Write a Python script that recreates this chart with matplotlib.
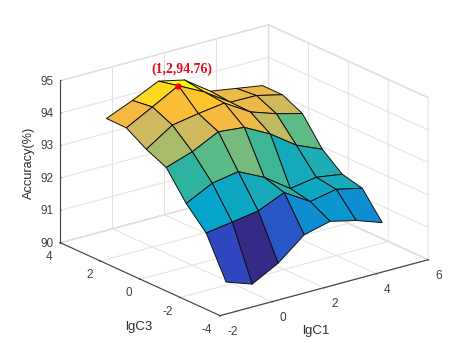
#!/usr/bin/env python
# surface of accuracy over lgC1 / lgC3, MATLAB style
import numpy as np
import matplotlib
matplotlib.use('Agg')
import matplotlib.pyplot as plt
from matplotlib.colors import LinearSegmentedColormap

lgc1 = [-1, 0, 1, 2, 3, 4, 5]
lgc3 = [-3, -2, -1, 0, 1, 2, 3]
# rows follow lgc3, columns follow lgc1
acc = [
    [90.54, 90.26, 90.69, 91.35, 91.55, 91.36, 91.08],
    [91.77, 91.89, 92.02, 92.37, 91.88, 92.04, 91.86],
    [92.40, 92.81, 92.95, 92.56, 92.00, 92.13, 92.01],
    [93.23, 93.50, 93.90, 93.82, 93.40, 92.84, 92.50],
    [93.51, 94.04, 94.18, 94.29, 93.80, 93.53, 93.32],
    [93.89, 94.32, 94.76, 94.35, 93.82, 93.81, 93.62],
    [93.90, 94.24, 94.62, 94.44, 93.88, 93.75, 93.62],
]
peak = (1, 2, 94.76)
x_ticks = [-2, 0, 2, 4, 6]
y_ticks = [-4, -2, 0, 2, 4]
z_ticks = [90, 91, 92, 93, 94, 95]

parula = LinearSegmentedColormap.from_list('parula', [
    (0.0, '#352a87'), (0.06, '#2f49c0'), (0.2, '#1481d6'), (0.335, '#06a4ca'),
    (0.476, '#2eb3a0'), (0.567, '#5abb88'), (0.66, '#a9bb68'), (0.72, '#cdb95e'),
    (0.81, '#f5b942'), (0.87, '#fdc030'), (0.9, '#fdd820'), (1.0, '#f9fb0e')])

plt.rcParams['font.family'] = ['Liberation Sans', 'DejaVu Sans']
plt.rcParams['axes.unicode_minus'] = False
fig = plt.figure(figsize=(4.74, 3.55), dpi=100)
ax = fig.add_axes([2.5 / 474, 2.5 / 355, 1.0, 1.0], projection='3d', computed_zorder=False)
ax.set_proj_type('ortho')
ax.view_init(elev=20.5, azim=-127.5)
ax.set_box_aspect((1, 1, 0.66), zoom=1.119)

X, Y = np.meshgrid(lgc1, lgc3)
Z = np.array(acc)
colors = parula((Z - Z.min()) / (Z.max() - Z.min()))
ax.plot_surface(X, Y, Z, facecolors=colors, rstride=1, cstride=1, shade=False,
                edgecolor='#101010', linewidth=0.7, zorder=1)
ax.scatter([peak[0]], [peak[1]], [peak[2]], color='red', s=12, depthshade=False, zorder=5)
ax.text(peak[0] + 0.15, peak[1], peak[2] + 0.28, '(1,2,94.76)', color='#e01020', fontsize=10,
        fontweight='bold', family='Liberation Serif', ha='center', va='bottom', zorder=6)

ax.set_xlim(-2, 6)
ax.set_ylim(-4, 4)
ax.set_zlim(90, 95)
ax.set_xticks(x_ticks)
ax.set_yticks(y_ticks)
ax.set_zticks(z_ticks)

for axis in (ax.xaxis, ax.yaxis, ax.zaxis):
    axis.set_pane_color((1, 1, 1, 1))
    axis.pane.set_edgecolor('#d8d8d8')
    axis.line.set_color('#404040')
    axis.line.set_linewidth(0.8)
    axis._axinfo['grid'].update(color='#e2e2e2', linewidth=0.7)
    axis._axinfo['tick'].update(inward_factor=0.04, outward_factor=0.0, linewidth={True: 0.8, False: 0.5})
ax.zaxis._axinfo['tick'].update(inward_factor=0.0, outward_factor=0.03)
ax.tick_params(labelsize=8.5, labelcolor='#404040', color='#404040')
ax.tick_params(axis='x', pad=-2)
ax.tick_params(axis='y', pad=-3)
ax.tick_params(axis='z', pad=-3)
for lab in ax.get_xticklabels():
    lab.set_ha('left')
for lab in ax.get_yticklabels():
    lab.set_ha('right')
for lab in ax.get_zticklabels():
    lab.set_va('center_baseline')

# axis titles sit off the axis midpoints in the original
fig.text(316 / 474, 1 - 331 / 355, 'lgC1', fontsize=9.5, color='#303030', ha='center', va='center')
fig.text(139 / 474, 1 - 327 / 355, 'lgC3', fontsize=9.5, color='#303030', ha='center', va='center')
fig.text(29 / 474, 1 - 162.5 / 355, 'Accuracy(%)', fontsize=9.2, color='#303030',
         rotation=90, ha='center', va='center')

fig.savefig('out.png', dpi=100)
